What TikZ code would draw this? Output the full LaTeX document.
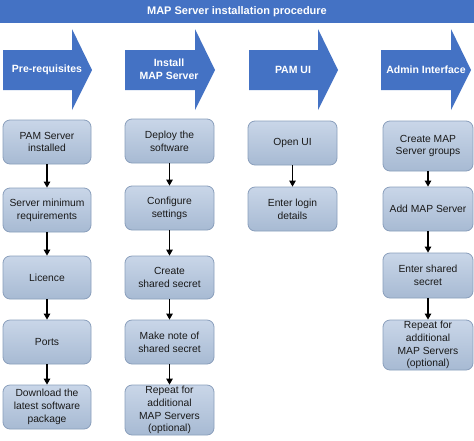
\documentclass[tikz,border=0pt]{standalone}
\usepackage{fontspec}
\setmainfont{Liberation Sans}
\usetikzlibrary{arrows.meta}
\definecolor{hdrblue}{HTML}{4472C4}
\definecolor{boxtop}{HTML}{C9D6E8}
\definecolor{boxbot}{HTML}{A7BAD3}
\definecolor{boxedge}{HTML}{8A9FBC}
\tikzset{
  procbox/.style={draw=boxedge, line width=0.8pt, rounded corners=7pt,
    top color=boxtop, bottom color=boxbot, align=center, inner sep=1pt,
    text=black!90, font=\fontsize{10.3}{12.7}\selectfont},
  hdrtext/.style={text=white, align=center, font=\bfseries\fontsize{10.5}{13}\selectfont},
  flow/.style={line width=1.1pt, -{Triangle[width=6.5pt,length=6pt]}},
}
\newcommand{\bigarrow}[3]{% left, body end, tip
  \fill[hdrblue] (#1,50) -- (#2,50) -- (#2,29) -- (#3,70) -- (#2,110) -- (#2,90) -- (#1,90) -- cycle;
}
\begin{document}
\begin{tikzpicture}[x=1pt,y=-1pt]
\useasboundingbox (0,0) rectangle (474,440);
\fill[white] (0,0) rectangle (474,440);
% title bar
\fill[hdrblue] (0,0) rectangle (474,23);
\node[hdrtext, font=\bfseries\fontsize{11}{13}\selectfont] (title) at (237,12) {MAP Server installation procedure};
% big arrows
\bigarrow{3}{72}{92}
\bigarrow{125}{195}{215}
\bigarrow{249}{318}{338}
\bigarrow{381}{451}{471}
\node[hdrtext] (h1) at (47,70) {Pre-requisites};
\node[hdrtext] (h2) at (169,69) {Install\\MAP Server};
\node[hdrtext] (h3) at (293,70) {PAM UI};
\node[hdrtext] (h4) at (426,70) {Admin Interface};
% column 1
\node[procbox, minimum width=88pt, minimum height=44pt] (a1) at (47,142) {PAM Server\\installed};
\node[procbox, minimum width=88pt, minimum height=44pt] (a2) at (47,210) {Server minimum\\requirements};
\node[procbox, minimum width=88pt, minimum height=43pt] (a3) at (47,277.5) {Licence};
\node[procbox, minimum width=88pt, minimum height=44pt] (a4) at (47,342) {Ports};
\node[procbox, minimum width=88pt, minimum height=44pt] (a5) at (47,407) {Download the\\latest software\\package};
% column 2
\node[procbox, minimum width=89pt, minimum height=44pt] (b1) at (169.5,141) {Deploy the\\software};
\node[procbox, minimum width=89pt, minimum height=44pt] (b2) at (169.5,208) {Configure\\settings};
\node[procbox, minimum width=89pt, minimum height=43pt] (b3) at (169.5,277.5) {Create\\shared secret};
\node[procbox, minimum width=89pt, minimum height=44pt] (b4) at (169.5,342) {Make note of\\shared secret};
\node[procbox, minimum width=89pt, minimum height=50pt] (b5) at (169.5,410) {Repeat for\\additional\\MAP Servers\\(optional)};
% column 3
\node[procbox, minimum width=89pt, minimum height=44pt] (c1) at (292.5,143) {Open UI};
\node[procbox, minimum width=89pt, minimum height=44pt] (c2) at (292.5,209) {Enter login\\details};
% column 4
\node[procbox, minimum width=90pt, minimum height=50pt] (d1) at (428,146) {Create MAP\\Server groups};
\node[procbox, minimum width=90pt, minimum height=44pt] (d2) at (428,209) {Add MAP Server};
\node[procbox, minimum width=90pt, minimum height=45pt] (d3) at (428,275.5) {Enter shared\\secret};
\node[procbox, minimum width=90pt, minimum height=50pt] (d4) at (428,345) {Repeat for\\additional\\MAP Servers\\(optional)};
% connectors
\draw[flow] (a1) -- (a2);
\draw[flow] (a2) -- (a3);
\draw[flow] (a3) -- (a4);
\draw[flow] (a4) -- (a5);
\draw[flow] (b1) -- (b2);
\draw[flow] (b2) -- (b3);
\draw[flow] (b3) -- (b4);
\draw[flow] (b4) -- (b5);
\draw[flow] (c1) -- (c2);
\draw[flow] (d1) -- (d2);
\draw[flow] (d2) -- (d3);
\draw[flow] (d3) -- (d4);
\end{tikzpicture}
\end{document}
